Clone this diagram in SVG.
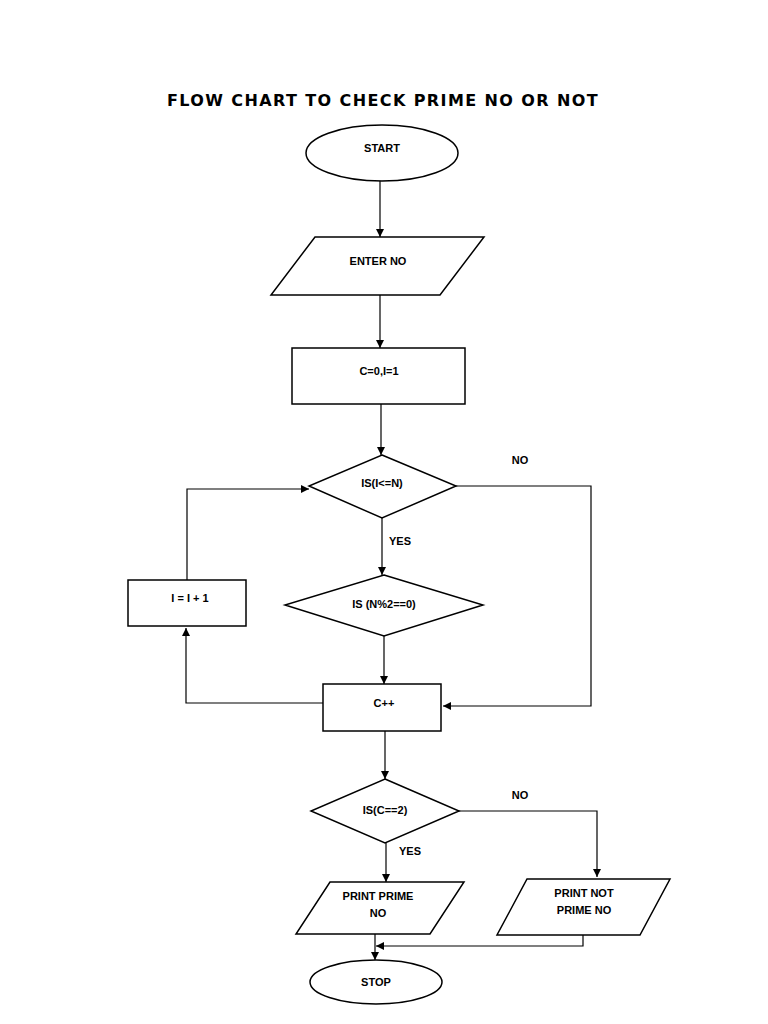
<svg xmlns="http://www.w3.org/2000/svg" width="768" height="1024" viewBox="0 0 768 1024">
<style>
.s{fill:#fff;stroke:#000;stroke-width:1.5}
.t{font-family:"Liberation Sans",Arial,sans-serif;font-size:11px;font-weight:bold;text-anchor:middle}
.c{fill:none;stroke:#000;stroke-width:1.2}
</style>
<defs><marker id="a" viewBox="0 0 10 10" refX="10" refY="5" markerWidth="8" markerHeight="8" orient="auto" markerUnits="userSpaceOnUse"><path d="M0,0L10,5L0,10z" fill="#000"/></marker></defs>
<rect width="768" height="1024" fill="#fff"/>
<text x="383" y="106" font-family="'DejaVu Sans',Verdana,sans-serif" font-weight="bold" font-size="16" letter-spacing="1.4" text-anchor="middle">FLOW CHART TO CHECK PRIME NO OR NOT</text>
<g id="connectors" class="c">
<path d="M380,181V237" marker-end="url(#a)"/>
<path d="M380,295V348" marker-end="url(#a)"/>
<path d="M381,404V455" marker-end="url(#a)"/>
<path d="M456,486H591V706H443" marker-end="url(#a)"/>
<path d="M382,518V575" marker-end="url(#a)"/>
<path d="M384,636V684" marker-end="url(#a)"/>
<path d="M323,703H186V628" marker-end="url(#a)"/>
<path d="M187,580V489H309" marker-end="url(#a)"/>
<path d="M385,731V779" marker-end="url(#a)"/>
<path d="M459,811H597V877" marker-end="url(#a)"/>
<path d="M386,843V882" marker-end="url(#a)"/>
<path d="M583,935V946H376" marker-end="url(#a)"/>
<path d="M375,934V960" marker-end="url(#a)"/>
</g>
<g id="start"><ellipse class="s" cx="382" cy="153" rx="76" ry="28"/><text class="t" x="382" y="152">START</text></g>
<g id="enter"><path class="s" d="M315,237H484L440,295H271Z"/><text class="t" x="378" y="265">ENTER NO</text></g>
<g id="init"><rect class="s" x="292" y="348" width="173" height="56"/><text class="t" x="379" y="375">C=0,I=1</text></g>
<g id="d1"><path class="s" d="M382,455L456,486L382,518L309,486Z"/><text class="t" x="382" y="487">IS(I&lt;=N)</text></g>
<g id="d2"><path class="s" d="M384,575L483,605L384,636L285,605Z"/><text class="t" x="384" y="608">IS (N%2==0)</text></g>
<g id="cpp"><rect class="s" x="323" y="684" width="118" height="47"/><text class="t" x="384" y="707">C++</text></g>
<g id="inc"><rect class="s" x="128" y="580" width="118" height="46"/><text class="t" x="190" y="602">I = I + 1</text></g>
<g id="d3"><path class="s" d="M385,779L459,811L385,843L311,811Z"/><text class="t" x="385" y="814">IS(C==2)</text></g>
<g id="prime"><path class="s" d="M330,882H464L430,934H296Z"/><text class="t" x="378" y="900">PRINT PRIME</text><text class="t" x="378" y="917">NO</text></g>
<g id="notprime"><path class="s" d="M527,879H670L640,935H497Z"/><text class="t" x="584" y="897">PRINT NOT</text><text class="t" x="584" y="914">PRIME NO</text></g>
<g id="stop"><ellipse class="s" cx="376" cy="982" rx="66" ry="22"/><text class="t" x="376" y="986">STOP</text></g>
<g class="t"><text x="520" y="464">NO</text><text x="400" y="545">YES</text><text x="520" y="799">NO</text><text x="410" y="855">YES</text></g>
</svg>
